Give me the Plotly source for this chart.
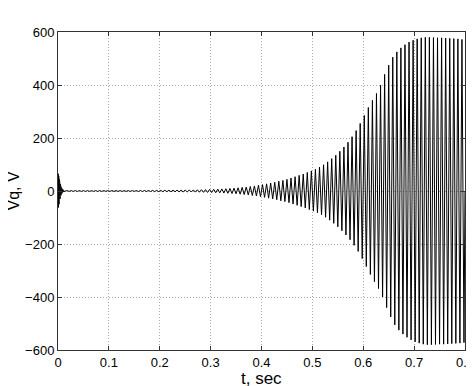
import numpy as np
import plotly.graph_objects as go

# ---- data ----
x_ticks = [0, 0.1, 0.2, 0.3, 0.4, 0.5, 0.6, 0.7, 0.8]
y_ticks = [-600, -400, -200, 0, 200, 400, 600]

# start-up transient: alternating extrema, half-period 0.5 ms
transient_step = 0.0005
transient_vals = [0, 65, -62, 56, -50, 44, -39, 34, -30, 26, -22, 19, -16, 14,
                  -12, 10, -8.5, 7, -6, 5, -4, 3.3, -2.7, 2.2, -1.8]

# main oscillation: one peak amplitude per cycle (cycle index starts at 2)
carrier_hz = 125.0
first_cycle = 2
cycle_amp = [1.5] * 17 + [
    1.8, 1.9, 2.0, 2.1, 2.3, 2.4, 2.5, 2.6, 2.8, 3.0, 3.2, 3.4, 3.6, 3.9, 4.2,
    4.6, 5.0, 5.4, 5.8, 6.4, 7.0, 7.8, 8.6, 9.5, 10.5, 12, 13.5, 15, 17, 19,
    21.5, 24, 27, 30, 33, 37, 40, 44, 49, 54, 59, 64, 70, 76, 82, 90, 99, 110,
    122, 135, 150, 166, 184, 205, 228, 255, 285, 315, 342, 368, 400, 440, 475,
    505, 525, 540, 552, 562, 569, 574, 578, 580, 580, 579, 578, 578, 577, 576,
    575, 574, 572]

# ---- build the trace ----
t_vals = [i * transient_step for i in range(len(transient_vals))]
v_vals = list(transient_vals)
for j, a in enumerate(cycle_amp):
    k = first_cycle + j
    t_vals.append((k + 0.25) / carrier_hz)
    v_vals.append(a)
    t_vals.append((k + 0.75) / carrier_hz)
    v_vals.append(-a)
t_vals.append(0.8)
v_vals.append(0)

fig = go.Figure()
fig.add_trace(go.Scatter(x=t_vals, y=v_vals, mode="lines",
                         line=dict(color="black", width=1), hoverinfo="skip"))

font_family = "Liberation Sans, Arial, sans-serif"
axis_common = dict(
    showgrid=True, gridcolor="#a8a8a8", griddash="1px,2px", gridwidth=1,
    showline=True, linecolor="#333333", linewidth=1, mirror="ticks",
    ticks="inside", ticklen=4, tickcolor="#333333", zeroline=False,
    automargin=False, ticklabeloverflow="allow",
    tickfont=dict(family=font_family, size=13, color="black"),
)

# page body has an 8 px margin, so the figure is offset by (8, 8)
fig.update_layout(
    width=474, height=386,
    margin=dict(l=50, r=17, t=24, b=44, autoexpand=False),
    paper_bgcolor="white", plot_bgcolor="white",
    showlegend=False,
    xaxis=dict(range=[0, 0.8], tickvals=x_ticks,
               ticktext=[("%g" % v) for v in x_ticks], **axis_common),
    yaxis=dict(range=[-600, 600], tickvals=y_ticks, **axis_common),
    annotations=[
        dict(text="t, sec", xref="paper", yref="paper", x=0.5, y=0,
             xanchor="center", yanchor="top", yshift=-17, showarrow=False,
             font=dict(family=font_family, size=17, color="black")),
        dict(text="Vq, V", xref="paper", yref="paper", x=0, y=0.5,
             xanchor="right", yanchor="middle", xshift=-35, textangle=-90,
             showarrow=False,
             font=dict(family=font_family, size=16, color="black")),
    ],
)

fig.write_html("out.html", config={"displayModeBar": False})
